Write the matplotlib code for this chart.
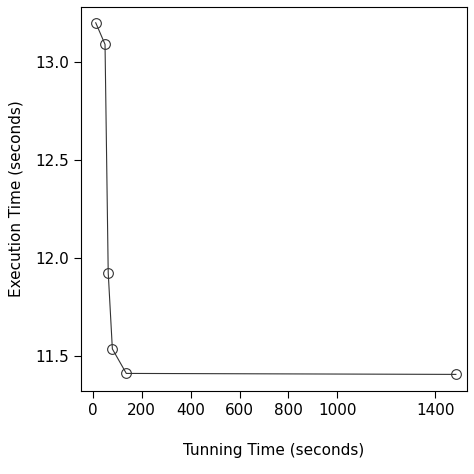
import matplotlib.pyplot as plt

tuning_time = [12, 50, 63, 80, 137, 1485]
exec_time = [13.2, 13.09, 11.925, 11.535, 11.41, 11.405]
xticks = [0, 200, 400, 600, 800, 1000, 1400]
yticks = [11.5, 12.0, 12.5, 13.0]

fig = plt.figure(figsize=(4.74, 4.74), dpi=100)
ax = fig.add_axes([0.17, 0.175, 0.815, 0.81])
ax.plot(tuning_time, exec_time, color='#333333', lw=0.8, marker='o', ms=7,
        mfc='none', mec='#333333', mew=0.8)
ax.set_xticks(xticks)
ax.set_yticks(yticks)
ax.set_yticklabels([f'{v:.1f}' for v in yticks])
ax.set_xlim(-50, 1530)
ax.set_ylim(11.32, 13.28)
ax.tick_params(labelsize=11, length=5)
ax.set_xlabel('Tunning Time (seconds)', fontsize=11, labelpad=18)
ax.set_ylabel('Execution Time (seconds)', fontsize=11, labelpad=8)
fig.savefig('out.png')
